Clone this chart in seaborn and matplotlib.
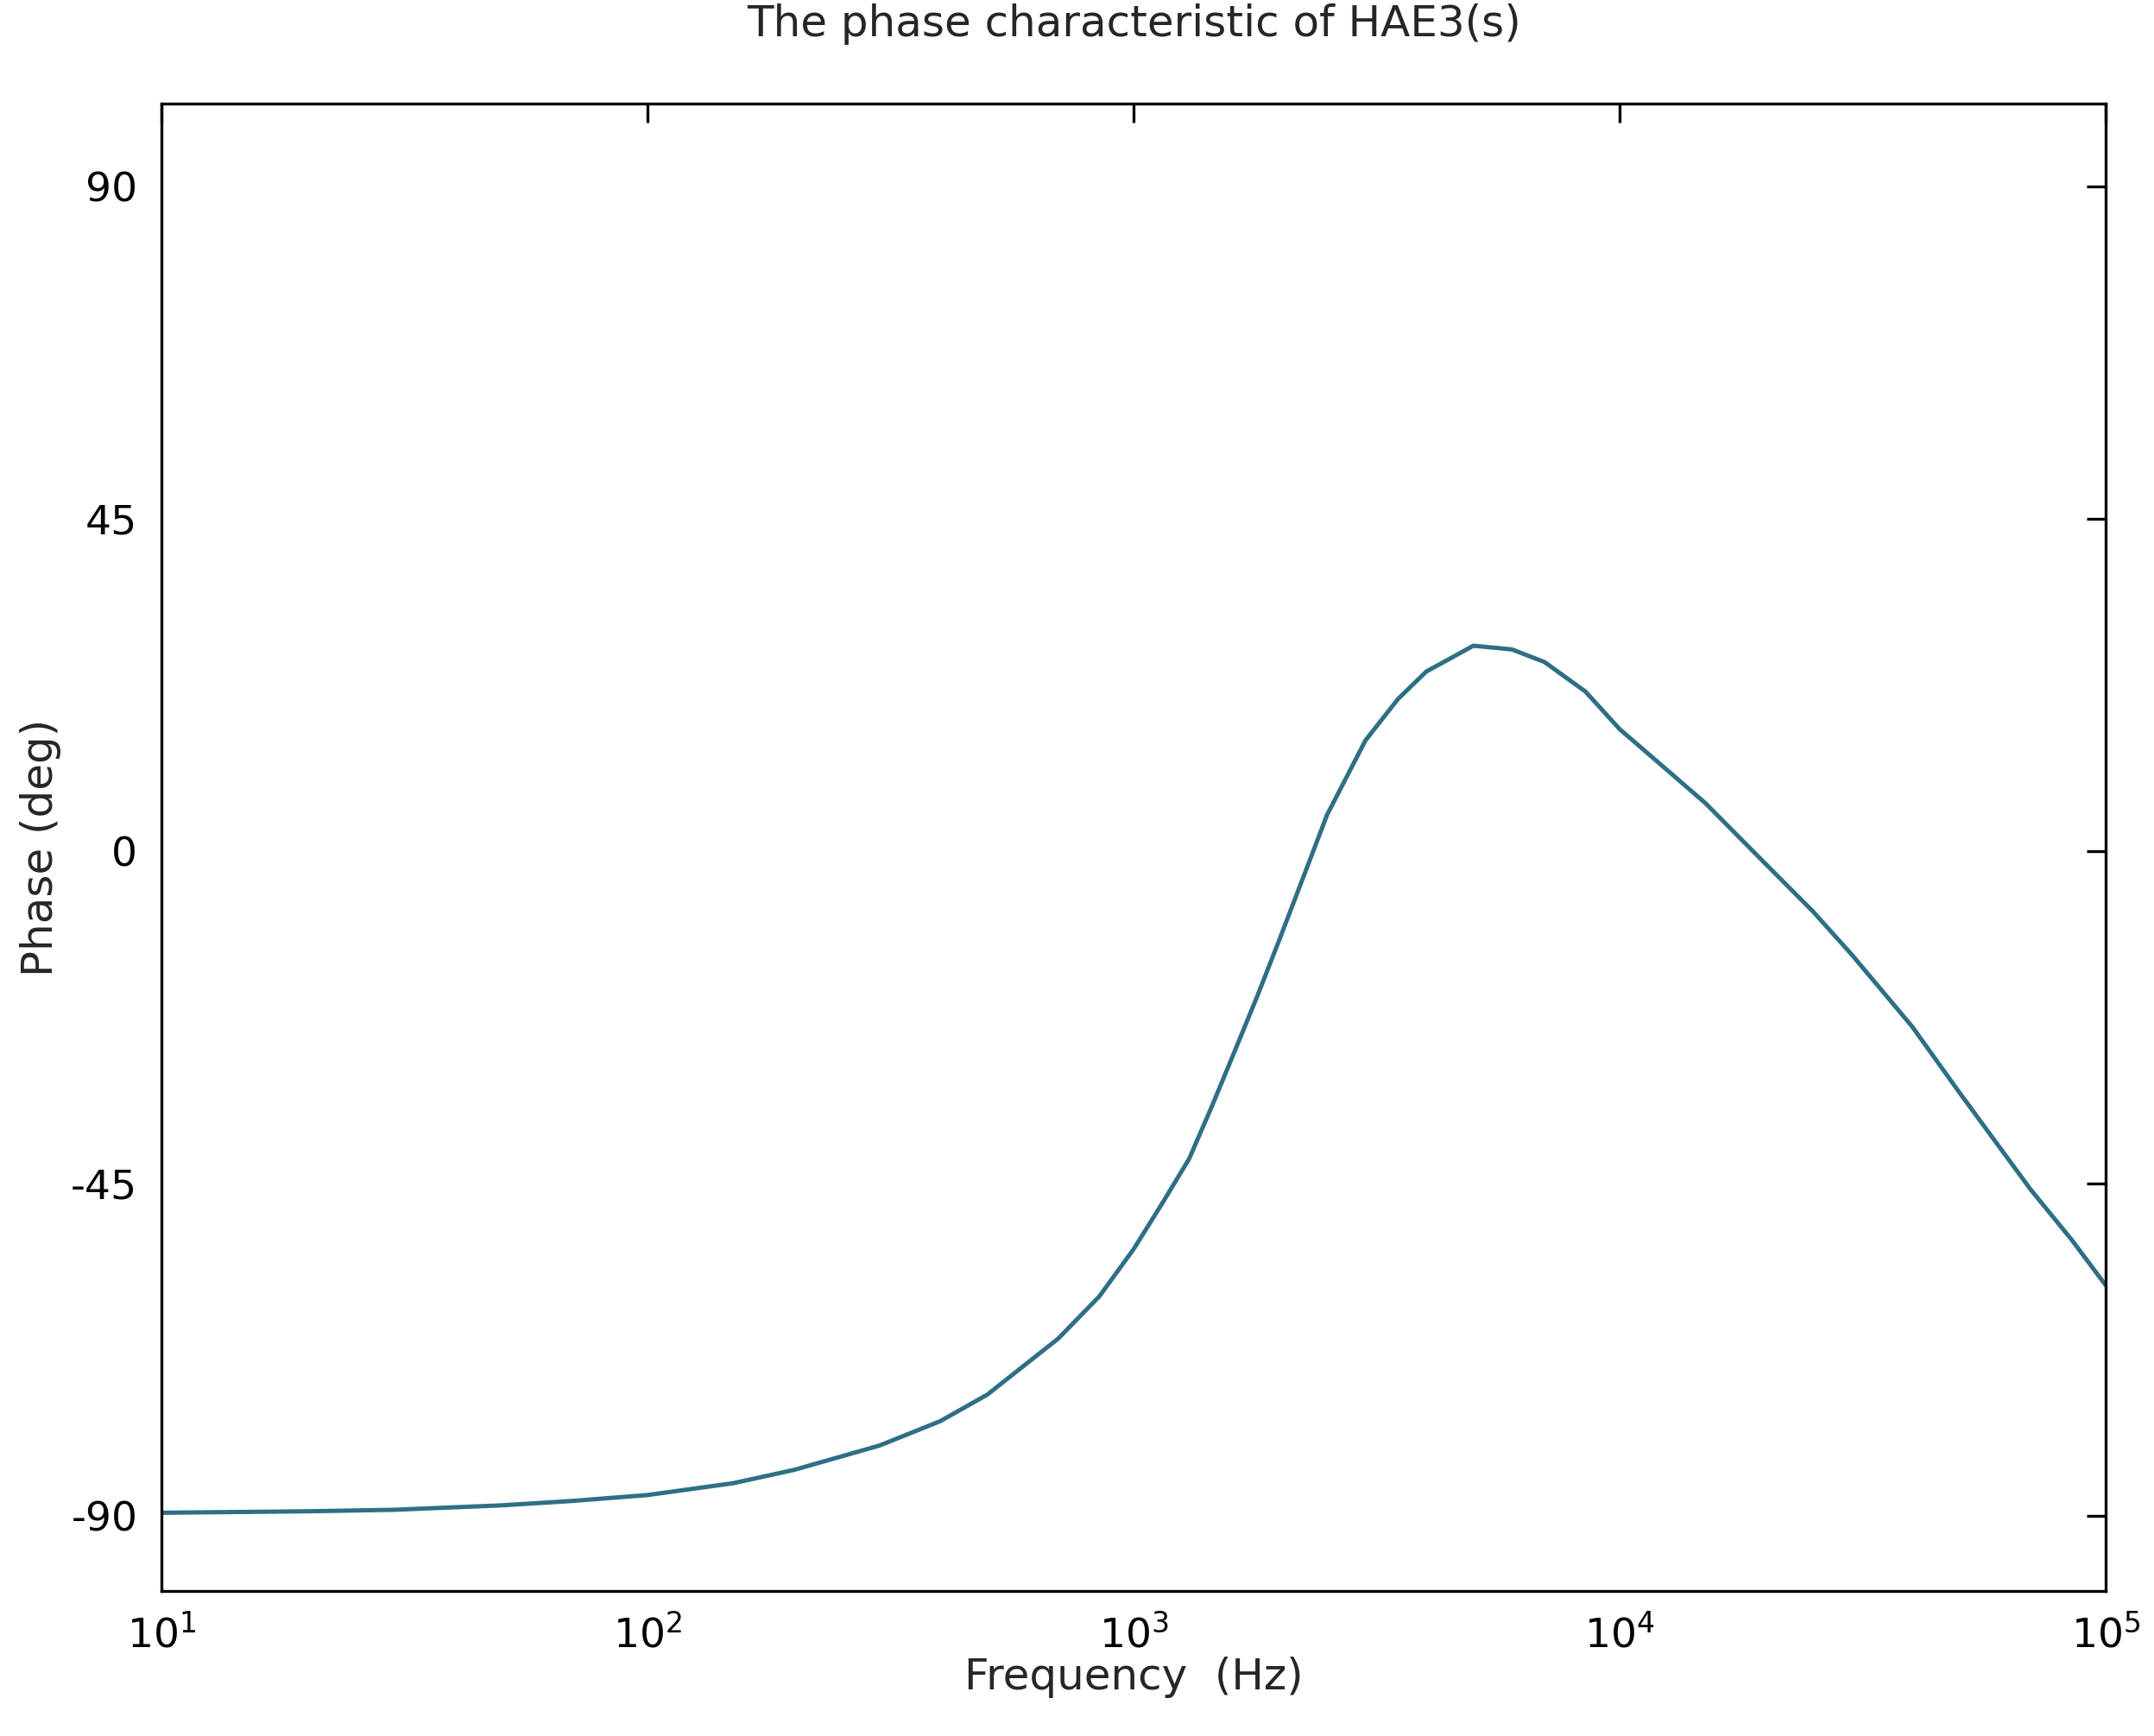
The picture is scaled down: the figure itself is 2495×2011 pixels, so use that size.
import numpy as np
import pandas as pd
import matplotlib
matplotlib.use("Agg")
import matplotlib.pyplot as plt
import seaborn as sns

# Values
freq_hz = [10, 20, 30, 50, 70, 100, 150, 200, 300, 400, 500, 700, 850, 1000, 1150, 1300,
           1450, 1600, 1800, 2000, 2250, 2500, 3000, 3500, 4000, 5000, 6000, 7000, 8500,
           10000, 12500, 15000, 20000, 25000, 30000, 40000, 50000, 70000, 85000, 100000]
phase_deg = [-89.6, -89.4, -89.2, -88.6, -88.0, -87.2, -85.6, -83.8, -80.5, -77.2, -73.6,
             -66.0, -60.3, -53.9, -47.5, -41.7, -34.5, -27.7, -19.5, -11.8, -3.0, 4.9, 15.0,
             20.6, 24.3, 27.8, 27.3, 25.6, 21.6, 16.5, 11.0, 6.5, -1.8, -8.2, -14.0, -23.8,
             -32.7, -45.8, -52.6, -58.8]

df = pd.DataFrame({"freq": freq_hz, "phase": phase_deg})

sns.set_theme(style="white")
plt.rcParams['font.family'] = ['DejaVu Sans']

fig = plt.figure(figsize=(12.475, 10.055), dpi=200)
ax = fig.add_axes([0.075, 0.0835, 0.9026, 0.8568])
sns.lineplot(data=df, x="freq", y="phase", ax=ax, color="#2f6f86", linewidth=1.8)
ax.set_xscale("log")
ax.set_xlim(10, 1e5)
ax.set_ylim(-100.2, 101.2)
ax.set_yticks([-90, -45, 0, 45, 90])
ax.set_yticklabels(["-90", "-45", "0", "45", "90"])
ax.tick_params(direction="in", top=True, right=True, length=8, width=1.2,
               labelsize=17, pad=10, colors="black")
ax.tick_params(which="minor", length=0)
for s in ax.spines.values():
    s.set_color("black")
    s.set_linewidth(1.2)
ax.set_xlabel("Frequency  (Hz)", fontsize=18, labelpad=0)
ax.set_ylabel("Phase (deg)", fontsize=18, labelpad=4)
ax.set_title("The phase characteristic of HAE3(s)", fontsize=18, pad=28)
fig.savefig("out.png", dpi=200)
